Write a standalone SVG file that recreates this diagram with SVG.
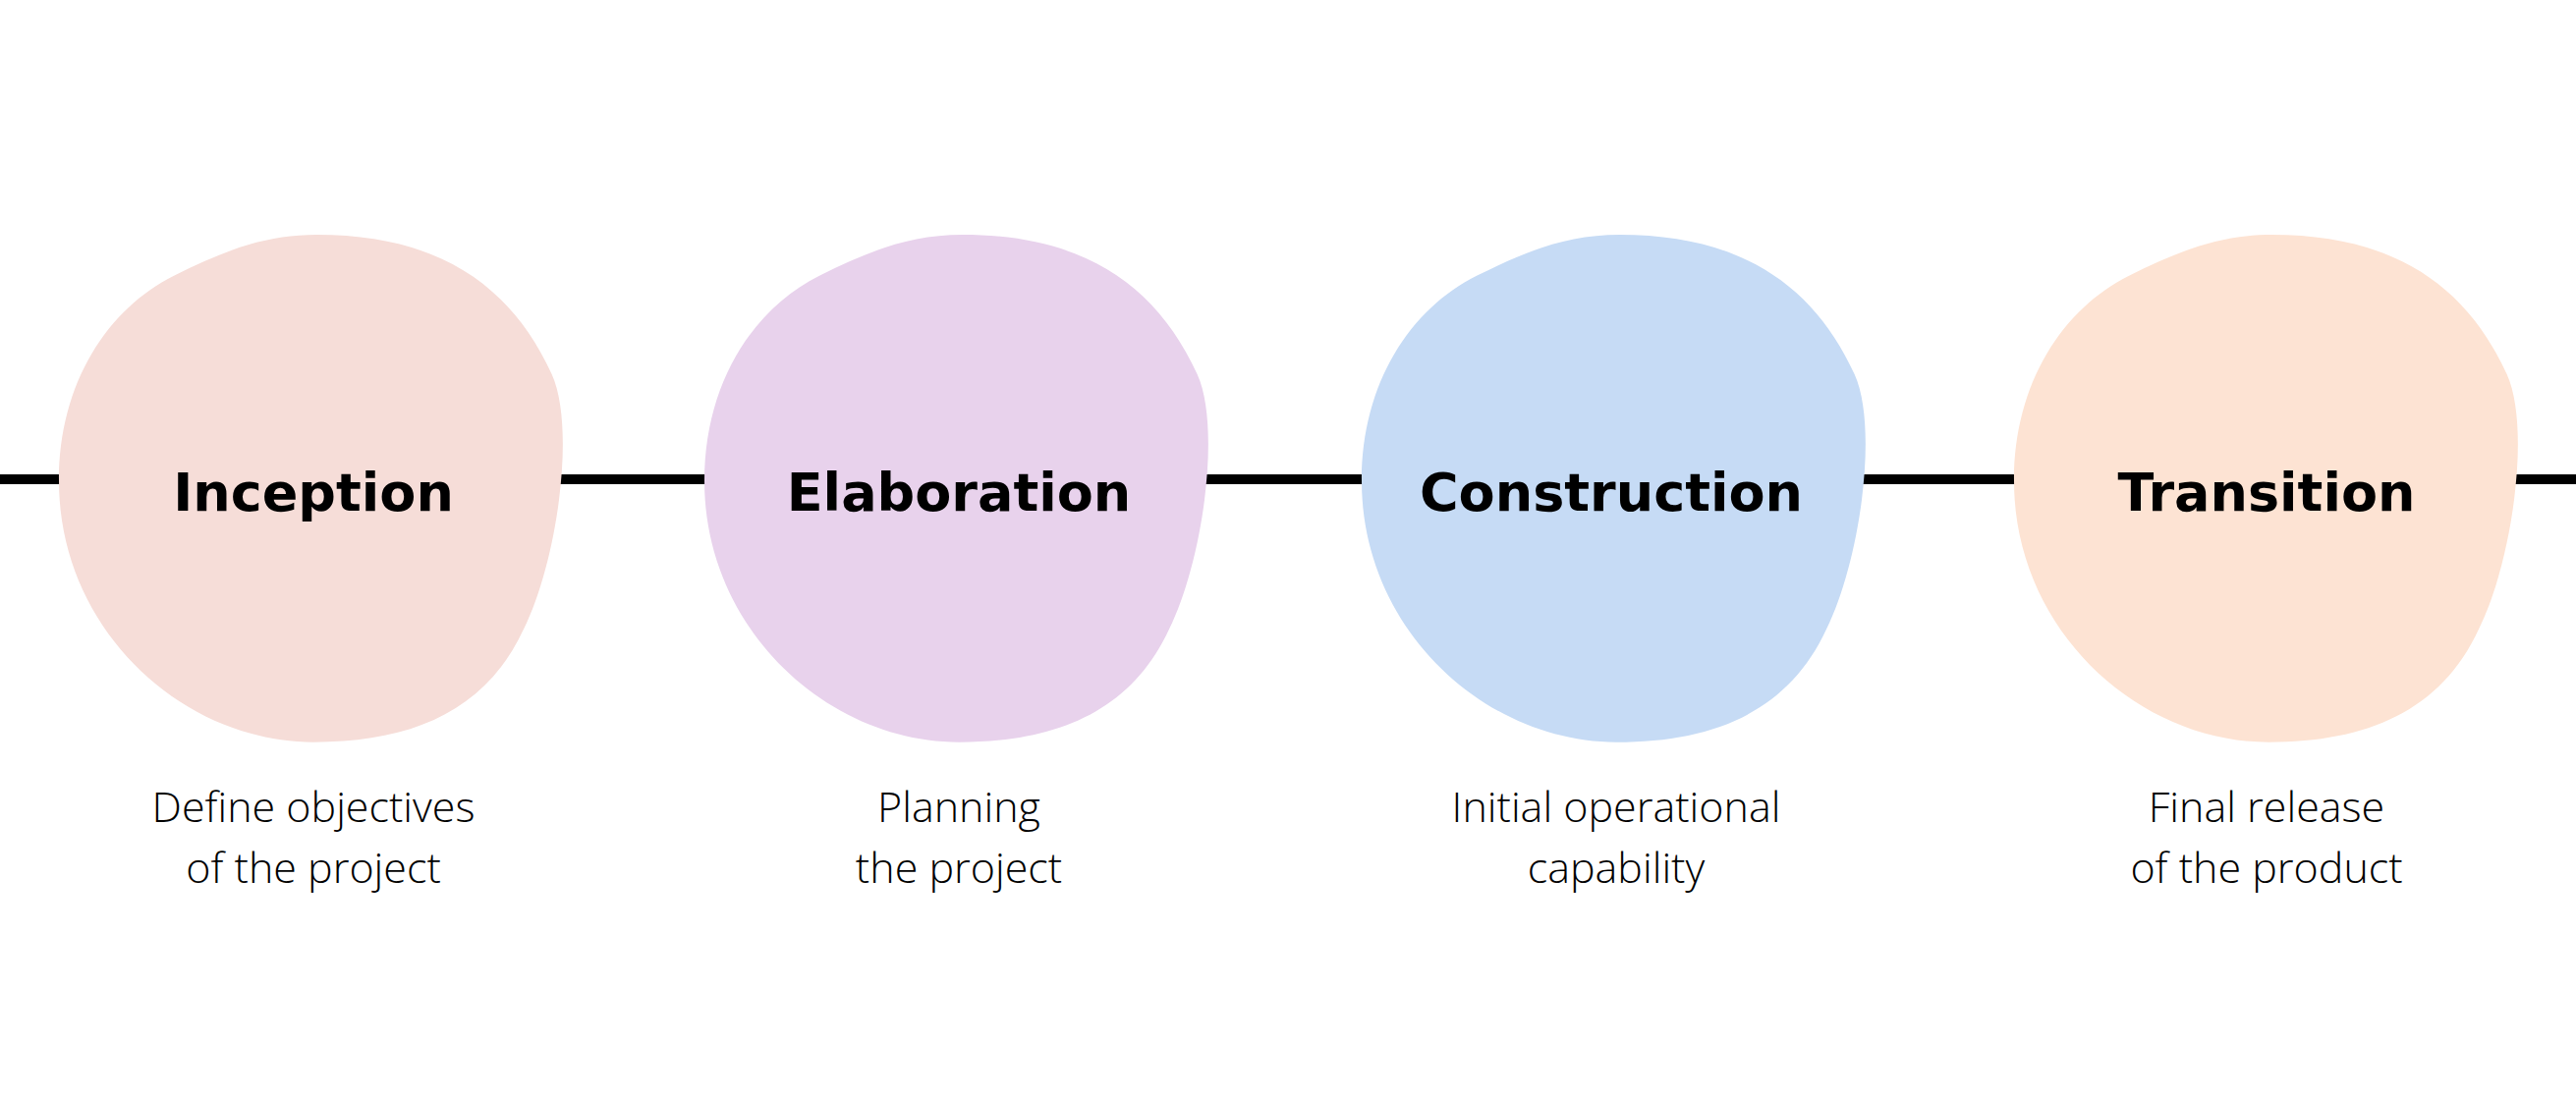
<svg xmlns="http://www.w3.org/2000/svg" xmlns:xlink="http://www.w3.org/1999/xlink" width="2622" height="1118" viewBox="0 0 2622 1118">
<style>
.t{font-family:"DejaVu Sans",sans-serif;font-weight:bold;font-size:54px;text-anchor:middle;fill:#000}
.s{font-family:"Open Sans",sans-serif;font-weight:300;font-size:43px;text-anchor:middle;fill:#000}
</style>
<defs>
<path id="blob" transform="scale(1.672)" d="M157,0 C230,0 275,30 300,85 C315,118 303,200 283,240 C260,290 215,309 155,309 C75,309 0,240 0,150 C0,90 30,45 70,25 C100,10 125,0 157,0 Z"/>
</defs>
<rect width="2622" height="1118" fill="#fff"/>
<g id="connectors"><line x1="0" y1="488" x2="2622" y2="488" stroke="#000" stroke-width="10"/></g>
<g id="inception"><use xlink:href="#blob" x="60" y="239" fill="#F6DDD8"/><text class="t" x="319" y="520">Inception</text><text class="s" x="319" y="837">Define objectives</text><text class="s" x="319" y="899">of the project</text></g>
<g id="elaboration"><use xlink:href="#blob" x="717" y="239" fill="#E8D2EC"/><text class="t" x="976" y="520">Elaboration</text><text class="s" x="976" y="837">Planning</text><text class="s" x="976" y="899">the project</text></g>
<g id="construction"><use xlink:href="#blob" x="1386" y="239" fill="#C6DBF5"/><text class="t" x="1640" y="520">Construction</text><text class="s" x="1645" y="837">Initial operational</text><text class="s" x="1645" y="899">capability</text></g>
<g id="transition"><use xlink:href="#blob" x="2050" y="239" fill="#FDE3D3"/><text class="t" x="2307" y="520">Transition</text><text class="s" x="2307" y="837">Final release</text><text class="s" x="2307" y="899">of the product</text></g>
</svg>
